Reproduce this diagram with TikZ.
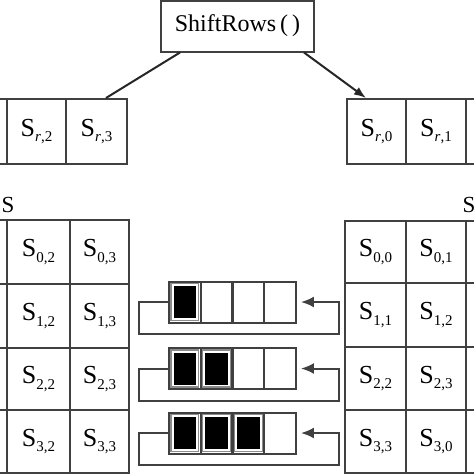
\documentclass[tikz,border=0pt]{standalone}
\usepackage{fontspec}
\setmainfont{Liberation Serif}
\usetikzlibrary{calc,arrows.meta}
\newcommand{\Sx}[2]{S\raisebox{-0.45ex}{\fontsize{15}{15}\selectfont #1,#2}}
\tikzset{
  ln/.style={draw=black!75, line width=2pt},
  cellbox/.style={ln, rectangle, inner sep=0pt, font=\fontsize{26}{26}\selectfont},
  regcell/.style={ln, rectangle, inner sep=0pt, minimum width=31.75pt, minimum height=41pt},
  conn/.style={draw=black!85, line width=2pt},
  loopln/.style={ln, -{Latex[length=13pt,width=11pt]}, shorten >=4pt},
  lbl/.style={font=\fontsize{23}{23}\selectfont, inner sep=0pt}
}
\newcommand{\blk}[1]{%
  \draw[draw=black!45, line width=1.3pt] ($(#1.north west)+(3,3)$) rectangle ($(#1.south east)+(-3,-3)$);
  \fill[black] ($(#1.north west)+(5.5,5.5)$) rectangle ($(#1.south east)+(-5.5,-5.5)$);}
\begin{document}
\begin{tikzpicture}[x=1pt,y=-1pt]
\useasboundingbox (0,0) rectangle (474,474);
\clip (0,0) rectangle (474,474);
\fill[white] (0,0) rectangle (474,474);
% top box
\node[cellbox, minimum width=153pt, minimum height=51pt, font=\fontsize{24}{24}\selectfont] (sr) at (237.5,26) {ShiftRows\,(\,)};
% left row
\node[cellbox, minimum width=59pt, minimum height=65pt] (lrx) at (-22.5,131.5) {};
\node[cellbox, minimum width=59pt, minimum height=65pt] (lr2) at (36.5,131.5) {\Sx{\textit{r}}{2}};
\node[cellbox, minimum width=61pt, minimum height=65pt] (lr3) at (96.5,131.5) {\Sx{\textit{r}}{3}};
% right row
\node[cellbox, minimum width=59pt, minimum height=65pt] (rr0) at (376.5,131.5) {\Sx{\textit{r}}{0}};
\node[cellbox, minimum width=60pt, minimum height=65pt] (rr1) at (436,131.5) {\Sx{\textit{r}}{1}};
\node[cellbox, minimum width=60pt, minimum height=65pt] (rrx) at (496,131.5) {};
% connectors from top box
\draw[conn] ($(sr.south west)+(20,0)$) -- ($(lr3.north west)+(41,0)$);
\draw[conn, -{Latex[length=12pt,width=9pt]}] ($(sr.south east)+(-11,0)$) -- ($(rr0.north west)+(20,0)$);
% labels S
\node[lbl] (lS) at (8,205) {S};
\node[lbl] (rS) at (469,205) {S};
% left grid
\foreach \r/\y/\h/\a/\b in {0/252/64/0/0, 1/316/64/1/1, 2/379/62/2/2, 3/441.5/63/3/3}{
  \node[cellbox, minimum width=63pt, minimum height=\h pt] (lg\r x) at (-24.5,\y) {};
  \node[cellbox, minimum width=63pt, minimum height=\h pt] (lg\r a) at (38.5,\y) {\Sx{\a}{2}};
  \node[cellbox, minimum width=59pt, minimum height=\h pt] (lg\r b) at (99.5,\y) {\Sx{\b}{3}};
}
% right grid
\node[cellbox, minimum width=61pt, minimum height=62pt] (rg0a) at (375.5,252) {\Sx{0}{0}};
\node[cellbox, minimum width=60pt, minimum height=62pt] (rg0b) at (436,252) {\Sx{0}{1}};
\node[cellbox, minimum width=61pt, minimum height=62pt] (rg0x) at (496.5,252) {};
\node[cellbox, minimum width=61pt, minimum height=64pt] (rg1a) at (375.5,315) {\Sx{1}{1}};
\node[cellbox, minimum width=60pt, minimum height=64pt] (rg1b) at (436,315) {\Sx{1}{2}};
\node[cellbox, minimum width=61pt, minimum height=64pt] (rg1x) at (496.5,315) {};
\node[cellbox, minimum width=61pt, minimum height=63pt] (rg2a) at (375.5,378.5) {\Sx{2}{2}};
\node[cellbox, minimum width=60pt, minimum height=63pt] (rg2b) at (436,378.5) {\Sx{2}{3}};
\node[cellbox, minimum width=61pt, minimum height=63pt] (rg2x) at (496.5,378.5) {};
\node[cellbox, minimum width=61pt, minimum height=63pt] (rg3a) at (375.5,441.5) {\Sx{3}{3}};
\node[cellbox, minimum width=60pt, minimum height=63pt] (rg3b) at (436,441.5) {\Sx{3}{0}};
\node[cellbox, minimum width=61pt, minimum height=63pt] (rg3x) at (496.5,441.5) {};
% shift registers
\foreach \k/\y in {1/302, 2/368.5, 3/433}{
  \node[regcell] (q\k a) at (184.9,\y) {};
  \node[regcell] (q\k b) at (216.6,\y) {};
  \node[regcell] (q\k c) at (248.4,\y) {};
  \node[regcell] (q\k d) at (280.1,\y) {};
  \coordinate (bl\k) at (139,\y+32);
  \coordinate (br\k) at (339,\y+32);
  \draw[loopln] (q\k a.west) -| (bl\k) -- (br\k) |- (q\k d.east);
}
\blk{q1a}
\blk{q2a}\blk{q2b}
\blk{q3a}\blk{q3b}\blk{q3c}
\end{tikzpicture}
\end{document}
